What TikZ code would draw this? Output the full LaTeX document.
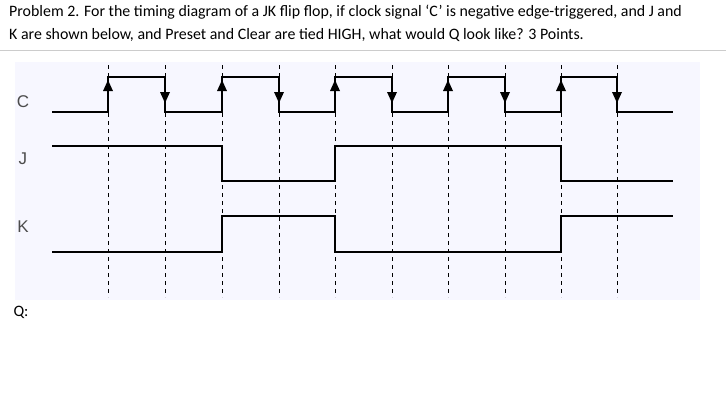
\documentclass[tikz,border=0pt]{standalone}
\usepackage{fontspec}
\setmainfont{Carlito}
\newfontfamily\lab{Liberation Sans}
\begin{document}
\begin{tikzpicture}[x=1pt,y=-1pt,
  sig/.style={line width=2pt},
  grid/.style={dashed,line width=0.6pt,dash pattern=on 4pt off 4pt},
  lbl/.style={font=\lab\fontsize{17}{17}\selectfont,text=black!70}]
\useasboundingbox (0,0) rectangle (726,408);
\fill[blue!3] (15,62) rectangle (700,300);
\draw[black!20,line width=0.6pt] (0,50) -- (726,50);
\node[anchor=north west,align=left,font=\fontsize{15.9}{23}\selectfont,inner sep=0] (t) at (9,5)
 {Problem 2. For the timing diagram of a JK flip flop, if clock signal `C' is negative edge-triggered, and J and\\K are shown below, and Preset and Clear are tied HIGH, what would Q look like? 3 Points.};
\foreach \x in {108,165,222,279,335,392,448,505,561,617}
  \draw[grid] (\x,65) -- (\x,297);
\node[lbl] (c) at (23,102) {C};
\node[lbl] (j) at (23,159) {J};
\node[lbl] (k) at (23,227) {K};
\node[font=\fontsize{15.9}{18}\selectfont] (q) at (21,312) {Q:};
\draw[sig] (52,112) -- (108,112) -- (108,77) -- (165,77) -- (165,112) -- (222,112) -- (222,77) -- (279,77) -- (279,112) -- (335,112) -- (335,77) -- (392,77) -- (392,112) -- (448,112) -- (448,77) -- (505,77) -- (505,112) -- (561,112) -- (561,77) -- (617,77) -- (617,112) -- (673,112);
\foreach \x in {108,222,335,448,561}
  \fill (\x,80) -- (\x-5,91) -- (\x+5,91) -- cycle;
\foreach \x in {165,279,392,505,617}
  \fill (\x,103) -- (\x-5,92) -- (\x+5,92) -- cycle;
\draw[sig] (52,146) -- (222,146) -- (222,181) -- (335,181) -- (335,146) -- (561,146) -- (561,181) -- (673,181);
\draw[sig] (52,252) -- (222,252) -- (222,216) -- (335,216) -- (335,252) -- (561,252) -- (561,216) -- (673,216);
\end{tikzpicture}
\end{document}
